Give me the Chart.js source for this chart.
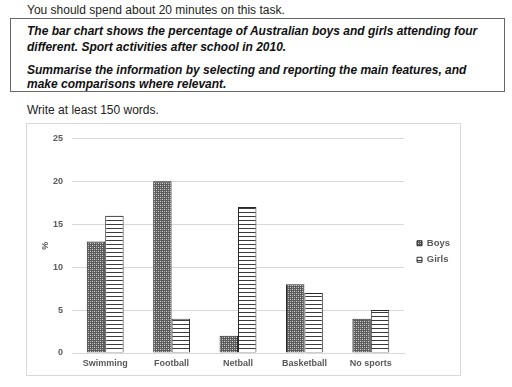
<!DOCTYPE html>
<html>
<head>
<meta charset="utf-8">
<script src="https://cdn.jsdelivr.net/npm/chart.js@4.4.0/dist/chart.umd.min.js"></script>
<style>
  html, body { margin: 0; padding: 0; background: #fff; width: 512px; height: 387px; overflow: hidden; }
  body { position: relative; font-family: "Liberation Sans", Arial, sans-serif; color: #222; }
  .t { position: absolute; white-space: nowrap; }
  #spend { left: 27px; top: 3px; font-size: 12px; }
  #task { position: absolute; left: 10px; top: 18px; width: 495px; height: 74px; border: 1px solid #666; box-sizing: border-box; }
  .bi { position: absolute; left: 16px; font-size: 12px; font-weight: bold; font-style: italic; color: #111; white-space: nowrap; }
  #write { left: 27px; top: 103px; font-size: 12px; }
  #chartbox { position: absolute; left: 26px; top: 123px; width: 435px; height: 253px; border: 1px solid #d9d9d9; box-sizing: border-box; }
  #c { position: absolute; left: 0; top: 0; }
</style>
</head>
<body>
<div class="t" id="spend">You should spend about 20 minutes on this task.</div>
<div id="task">
  <div class="bi" style="top:5px">The bar chart shows the percentage of Australian boys and girls attending four</div>
  <div class="bi" style="top:21px">different. Sport activities after school in 2010.</div>
  <div class="bi" style="top:44px">Summarise the information by selecting and reporting the main features, and</div>
  <div class="bi" style="top:58px">make comparisons where relevant.</div>
</div>
<div class="t" id="write">Write at least 150 words.</div>
<div id="chartbox"><canvas id="c" width="433" height="251"></canvas></div>
<script>
const categories = ["Swimming", "Football", "Netball", "Basketball", "No sports"];
const boys = [13, 20, 2, 8, 4];
const girls = [16, 4, 17, 7, 5];
const yTicks = [0, 5, 10, 15, 20, 25];

function makePattern(kind) {
  const p = document.createElement('canvas');
  const ctx = p.getContext('2d');
  p.width = 4; p.height = 4;
  if (kind === 'boys') {
    ctx.fillStyle = '#5a5a5a'; ctx.fillRect(0, 0, 4, 4);
    ctx.fillStyle = '#d8d8d8';
    ctx.fillRect(1, 1, 1, 1); ctx.fillRect(3, 3, 1, 1);
    ctx.fillStyle = '#a8a8a8';
    ctx.fillRect(3, 1, 1, 1); ctx.fillRect(1, 3, 1, 1);
  } else {
    ctx.fillStyle = '#ffffff'; ctx.fillRect(0, 0, 4, 4);
    ctx.fillStyle = '#3c3c3c'; ctx.fillRect(0, 0, 4, 1);
  }
  return document.getElementById('c').getContext('2d').createPattern(p, 'repeat');
}

const boysPat = makePattern('boys');
const girlsPat = makePattern('girls');

new Chart(document.getElementById('c'), {
  type: 'bar',
  data: {
    labels: categories,
    datasets: [
      { label: 'Boys', data: boys, backgroundColor: boysPat, borderColor: '#2a2a2a', borderWidth: 1 },
      { label: 'Girls', data: girls, backgroundColor: girlsPat, borderColor: '#2a2a2a', borderWidth: 1 }
    ]
  },
  options: {
    responsive: false,
    animation: false,
    devicePixelRatio: 1,
    layout: { padding: { top: 10, right: 0, bottom: 6, left: 10 } },
    datasets: { bar: { categoryPercentage: 0.555, barPercentage: 1.0 } },
    plugins: {
      legend: {
        position: 'right',
        labels: {
          boxWidth: 5, boxHeight: 5, padding: 7,
          color: '#595959',
          font: { family: 'Liberation Sans', size: 9.5, weight: 'bold' }
        }
      },
      tooltip: { enabled: false }
    },
    scales: {
      x: {
        grid: { display: false, drawTicks: false },
        border: { display: true, color: '#d9d9d9' },
        ticks: { color: '#595959', font: { family: 'Liberation Sans', size: 9, weight: 'bold' }, padding: 5 },
        afterFit: (scale) => { scale.height = 16; }
      },
      y: {
        min: 0, max: 25,
        afterBuildTicks: (axis) => { axis.ticks = yTicks.map(v => ({ value: v })); },
        grid: { color: '#d9d9d9', drawTicks: false },
        border: { display: false },
        ticks: { color: '#595959', font: { family: 'Liberation Sans', size: 9, weight: 'bold' }, padding: 9 },
        title: { display: true, text: '%', color: '#595959', font: { family: 'Liberation Sans', size: 9, weight: 'bold' }, padding: 3 },
        afterFit: (scale) => { scale.width = 35; }
      },
      gap: {
        type: 'linear', position: 'right', display: true,
        grid: { display: false, drawTicks: false }, border: { display: false },
        ticks: { display: false },
        afterFit: (scale) => { scale.width = 6; }
      }
    }
  }
});
</script>
</body>
</html>
